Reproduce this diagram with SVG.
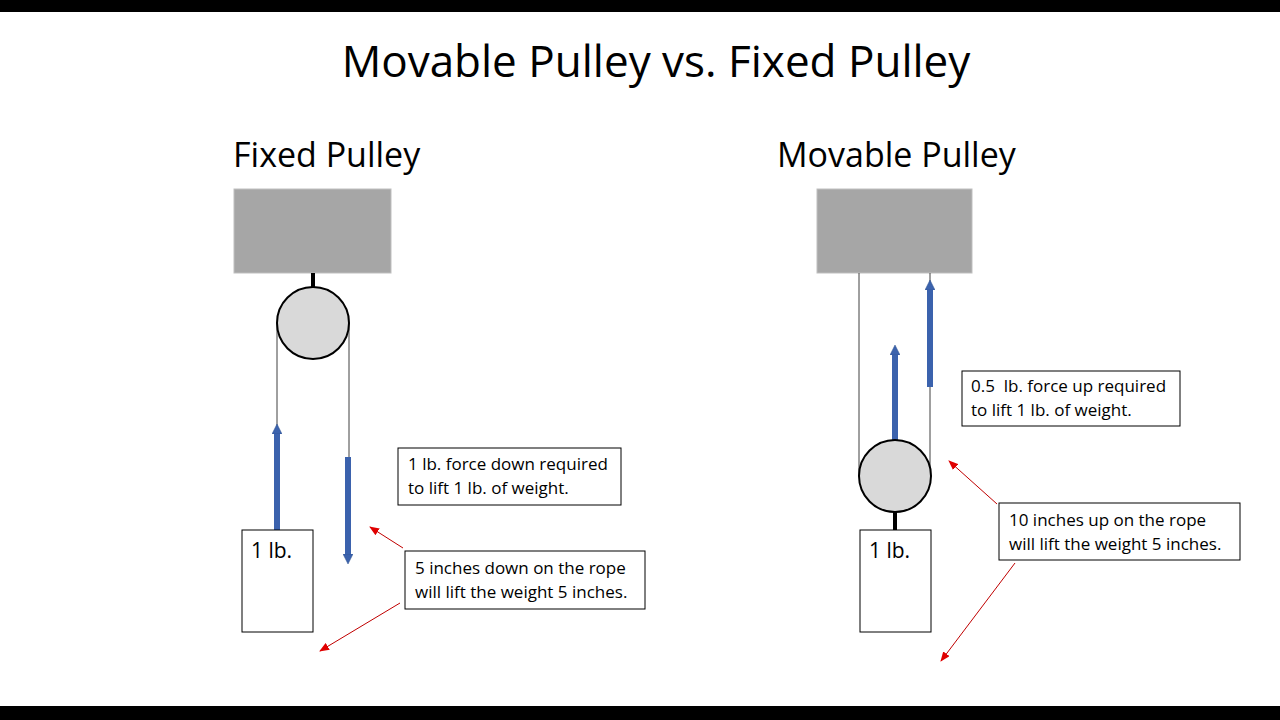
<svg xmlns="http://www.w3.org/2000/svg" width="1280" height="720" viewBox="0 0 1280 720">
<style>
text{font-family:"Open Sans","Liberation Sans",sans-serif;fill:#000}
.ceil{fill:#a6a6a6;stroke:#bfbfbf;stroke-width:1}
.wheel{fill:#d9d9d9;stroke:#000;stroke-width:2}
.rope{stroke:#404040;stroke-width:1;fill:none}
.stem{stroke:#000;stroke-width:4}
.box{fill:#fff;stroke:#000;stroke-width:1}
.blue{stroke:#3b62ad;stroke-width:6;fill:none}
.red{stroke:#c00000;stroke-width:1;fill:none;marker-end:url(#rh)}
.lbl{font-size:17px}
</style>
<defs>
<marker id="rh" markerWidth="10" markerHeight="8" refX="9" refY="4" orient="auto" markerUnits="userSpaceOnUse"><path d="M0,0 L10,4 L0,8 Z" fill="#e00000"/></marker>
<marker id="bh" markerWidth="12" markerHeight="10" refX="2" refY="5" orient="auto" markerUnits="userSpaceOnUse"><path d="M0,0 L10,5 L0,10 Z" fill="#3b62ad" stroke="#2f528f" stroke-width="0.5"/></marker>
</defs>
<rect width="1280" height="720" fill="#fff"/>
<rect width="1280" height="12" fill="#000"/>
<rect y="706" width="1280" height="14" fill="#000"/>
<text x="656" y="77" font-size="44" text-anchor="middle">Movable Pulley vs. Fixed Pulley</text>
<text x="233" y="167" font-size="34">Fixed Pulley</text>
<text x="777" y="167" font-size="34">Movable Pulley</text>

<g id="fixed-ceiling"><rect class="ceil" x="234" y="189" width="157" height="84"/></g>
<g id="movable-ceiling"><rect class="ceil" x="817" y="189" width="155" height="84"/></g>

<g id="connectors">
<line class="stem" x1="313" y1="273" x2="313" y2="288"/>
<line class="rope" x1="277" y1="323" x2="277" y2="530"/>
<line class="rope" x1="349" y1="323" x2="349" y2="460"/>
<line class="blue" x1="277" y1="530" x2="277" y2="432" marker-end="url(#bh)"/>
<line class="blue" x1="348" y1="457" x2="348" y2="556" marker-end="url(#bh)"/>
<line class="red" x1="403" y1="548" x2="370" y2="527"/>
<line class="red" x1="400" y1="603" x2="320" y2="651"/>

<line class="rope" x1="859" y1="273" x2="859" y2="476"/>
<line class="rope" x1="930" y1="273" x2="930" y2="476"/>
<line class="stem" x1="895" y1="510" x2="895" y2="530"/>
<line class="blue" x1="895" y1="441" x2="895" y2="353" marker-end="url(#bh)"/>
<line class="blue" x1="930" y1="387" x2="930" y2="288" marker-end="url(#bh)"/>
<line class="red" x1="997" y1="504" x2="949" y2="461"/>
<line class="red" x1="1015" y1="563" x2="941" y2="661"/>
</g>

<g id="fixed-wheel"><circle class="wheel" cx="313" cy="323" r="36"/></g>
<g id="fixed-weight"><rect class="box" x="242" y="530" width="71" height="102"/><text x="251" y="558" font-size="21">1 lb.</text></g>
<g id="movable-wheel"><circle class="wheel" cx="895" cy="476" r="36"/></g>
<g id="movable-weight"><rect class="box" x="860" y="530" width="71" height="102"/><text x="869" y="558" font-size="21">1 lb.</text></g>

<g id="label1"><rect class="box" x="398" y="448" width="223" height="57"/><text class="lbl" x="408" y="470">1 lb. force down required</text><text class="lbl" x="408" y="494">to lift 1 lb. of weight.</text></g>
<g id="label2"><rect class="box" x="405" y="551" width="240" height="58"/><text class="lbl" x="415" y="574">5 inches down on the rope</text><text class="lbl" x="415" y="598">will lift the weight 5 inches.</text></g>
<g id="label3"><rect class="box" x="962" y="371" width="218" height="55"/><text class="lbl" x="971" y="392" xml:space="preserve">0.5  lb. force up required</text><text class="lbl" x="971" y="416">to lift 1 lb. of weight.</text></g>
<g id="label4"><rect class="box" x="999" y="503" width="241" height="57"/><text class="lbl" x="1009" y="526">10 inches up on the rope</text><text class="lbl" x="1009" y="550">will lift the weight 5 inches.</text></g>
</svg>
